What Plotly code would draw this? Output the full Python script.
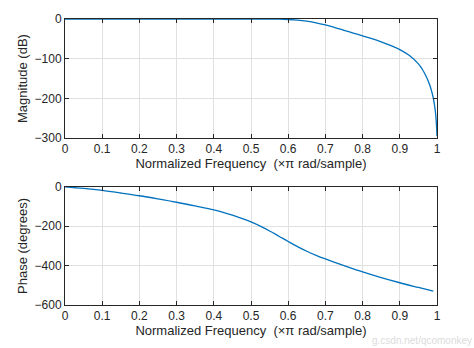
import plotly.graph_objects as go

# Data
mag_freq = [0, 0.1, 0.2, 0.3, 0.4, 0.5, 0.55, 0.575, 0.6, 0.625, 0.65, 0.675, 0.7,
            0.725, 0.75, 0.775, 0.8, 0.825, 0.85, 0.875, 0.9, 0.925, 0.95, 0.96,
            0.97, 0.98, 0.985, 0.99, 0.995, 0.998, 1.0]
mag_db = [0, 0, 0, 0, 0, 0, -0.1, -0.4, -1.2, -2.8, -5.5, -9.5, -15,
          -21.5, -28.5, -35.5, -42.5, -49.5, -57.5, -66.5, -77, -91.5, -113, -126,
          -143, -165, -180, -199, -228, -258, -295]

ph_freq = [0, 0.05, 0.1, 0.15, 0.2, 0.25, 0.3, 0.35, 0.4, 0.425, 0.45, 0.475, 0.5,
           0.525, 0.55, 0.575, 0.6, 0.625, 0.65, 0.675, 0.7, 0.725, 0.75, 0.8,
           0.85, 0.9, 0.95, 0.99]
ph_deg = [0, -8, -18, -31, -45, -61, -78, -97, -117, -129.5, -143.5, -159.5, -178,
          -199.5, -224, -250.5, -277.5, -303.5, -327, -347.5, -366, -383.5, -400, -432,
          -461, -487, -511, -530]

x_ticks = [0, 0.1, 0.2, 0.3, 0.4, 0.5, 0.6, 0.7, 0.8, 0.9, 1]
mag_ticks = [0, -100, -200, -300]
ph_ticks = [0, -200, -400, -600]

line_color = "#0072BD"
ax_color = "#262626"
grid_color = "#e0e0e0"
font_family = "Liberation Sans, Arial, sans-serif"

fig = go.Figure()
fig.add_trace(go.Scatter(x=mag_freq, y=mag_db, mode="lines", xaxis="x", yaxis="y",
                         line=dict(color=line_color, width=1.3, shape="spline", smoothing=1),
                         showlegend=False))
fig.add_trace(go.Scatter(x=ph_freq, y=ph_deg, mode="lines", xaxis="x2", yaxis="y2",
                         line=dict(color=line_color, width=1.3, shape="spline", smoothing=1),
                         showlegend=False))

xtitle = "Normalized Frequency  (\u00d7\u03c0 rad/sample)"
common_x = dict(range=[0, 1], tickvals=x_ticks, ticktext=[f"{v:g}" for v in x_ticks],
                showgrid=True, gridcolor=grid_color, gridwidth=1,
                showline=True, linecolor=ax_color, linewidth=1, mirror="ticks",
                ticks="inside", ticklen=4, tickcolor=ax_color,
                zeroline=False, tickfont=dict(size=12, color=ax_color),
                title=dict(text=xtitle, font=dict(size=13, color=ax_color), standoff=3))
common_y = dict(showgrid=True, gridcolor=grid_color, gridwidth=1,
                showline=True, linecolor=ax_color, linewidth=1, mirror="ticks",
                ticks="inside", ticklen=4, tickcolor=ax_color,
                zeroline=False, tickfont=dict(size=12, color=ax_color))

fig.update_layout(
    width=474, height=348,
    margin=dict(l=65, r=37, t=14, b=41),
    paper_bgcolor="white", plot_bgcolor="white",
    font=dict(family=font_family, color=ax_color),
    xaxis=dict(domain=[0, 1], anchor="y", **common_x),
    yaxis=dict(domain=[0.5836, 1], anchor="x", range=[-300, 0], tickvals=mag_ticks,
               title=dict(text="Magnitude (dB)", font=dict(size=13, color=ax_color), standoff=4),
               **common_y),
    xaxis2=dict(domain=[0, 1], anchor="y2", **common_x),
    yaxis2=dict(domain=[0, 0.413], anchor="x2", range=[-600, 0], tickvals=ph_ticks,
                title=dict(text="Phase (degrees)", font=dict(size=13, color=ax_color), standoff=4),
                **common_y),
    annotations=[dict(text="g.csdn.net/qcomonkey", xref="paper", yref="paper",
                      x=1.1, y=-0.125, xanchor="right", yanchor="middle", showarrow=False,
                      font=dict(size=10, color="#dcdcdc"))],
)

fig.write_html("out.html")
